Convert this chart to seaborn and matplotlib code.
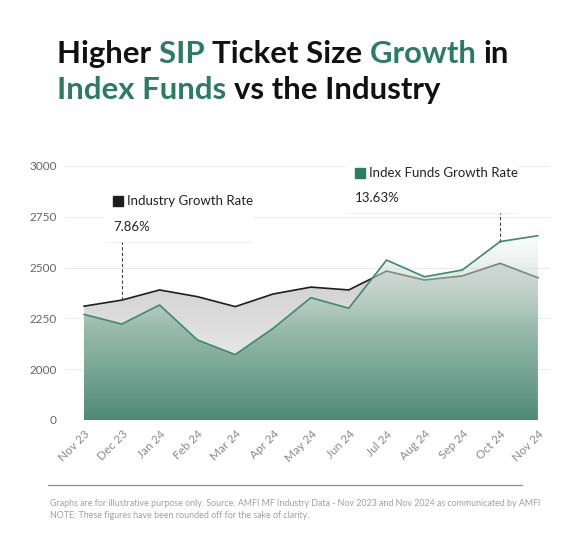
import numpy as np
import pandas as pd
import seaborn as sns
import matplotlib.pyplot as plt
from matplotlib.colors import LinearSegmentedColormap
from matplotlib.patches import Rectangle
from matplotlib.lines import Line2D
import matplotlib.patheffects as pe

# Data
months = ["Nov 23", "Dec 23", "Jan 24", "Feb 24", "Mar 24", "Apr 24", "May 24",
          "Jun 24", "Jul 24", "Aug 24", "Sep 24", "Oct 24", "Nov 24"]
industry = [2310, 2340, 2390, 2357, 2308, 2370, 2404, 2390, 2483, 2439, 2459, 2521, 2450]
index_funds = [2270, 2222, 2316, 2144, 2072, 2201, 2352, 2300, 2537, 2455, 2488, 2628, 2657]
y_ticks = [1750, 2000, 2250, 2500, 2750, 3000]
y_tick_labels = ["0", "2000", "2250", "2500", "2750", "3000"]
industry_label = "Industry Growth Rate"
industry_growth = "7.86%"
index_label = "Index Funds Growth Rate"
index_growth = "13.63%"

GREEN = "#2b7d62"
DARK = "#1e1e1e"
FONT = "Lato"

sns.set_style("white")
plt.rcParams["font.family"] = [FONT, "DejaVu Sans"]

df = pd.DataFrame({"pos": np.arange(len(months)), "month": months,
                   "industry": industry, "index_funds": index_funds})
floor = y_ticks[0]

fig = plt.figure(figsize=(5.78, 5.33), dpi=100)
ax = fig.add_axes([65 / 578, 1 - 420 / 533, (550 - 65) / 578, (420 - 166) / 533])


def gradient_fill(ax, x, y, colors, zorder):
    x = np.asarray(x, dtype=float)
    y = np.asarray(y, dtype=float)
    poly = ax.fill_between(x, y, floor, color="none", lw=0)
    path = poly.get_paths()[0]
    cmap = LinearSegmentedColormap.from_list("grad", colors)
    grad = np.linspace(0, 1, 256).reshape(-1, 1)
    im = ax.imshow(grad, cmap=cmap, aspect="auto", origin="lower",
                   extent=[x[0], x[-1], floor, y.max()], zorder=zorder)
    im.set_clip_path(path, transform=ax.transData)


gradient_fill(ax, df["pos"], df["industry"], ["#f8f8f8", "#cdcdcd"], 1)
sns.lineplot(data=df, x="pos", y="industry", color=DARK, lw=1.2, ax=ax, zorder=1.5)
gradient_fill(ax, df["pos"], df["index_funds"],
              [(0.30, 0.54, 0.46, 1.0), (0.56, 0.71, 0.65, 0.88),
               (0.95, 0.97, 0.96, 0.35)], 2)
sns.lineplot(data=df, x="pos", y="index_funds", color="#3d8a6f", lw=1.2, ax=ax, zorder=3)

ax.set_xlim(-0.5, 12.32)
ax.set_ylim(floor, 3000)
ax.set_yticks(y_ticks)
ax.set_yticklabels(y_tick_labels, color="#666666", fontsize=8.5)
ax.set_xticks(df["pos"])
ax.set_xticklabels(months, rotation=45, ha="right", rotation_mode="anchor",
                   color="#8a8a8a", fontsize=8.5)
ax.tick_params(length=0, pad=6)
ax.set_xlabel("")
ax.set_ylabel("")
ax.yaxis.grid(True, color="#ececec", lw=0.8)
ax.set_axisbelow(True)
sns.despine(ax=ax, left=True, bottom=True)


def callout(ax, x0, x1, y0, y1, label, value, color, px, dash_x, dash_y):
    box = Rectangle((x0, y0), x1 - x0, y1 - y0, facecolor="white", edgecolor="none",
                    zorder=5, clip_on=False,
                    path_effects=[pe.SimplePatchShadow(offset=(0, -1), shadow_rgbFace="#000000",
                                                       alpha=0.05), pe.Normal()])
    ax.add_patch(box)
    ax.vlines(dash_x, dash_y, y0, colors="#444444", lw=0.8, linestyles=(0, (3, 2)), zorder=4)
    ty = y1 - (y1 - y0) * 0.25
    ax.plot([px], [ty], marker="s", ms=7, color=color, zorder=6, clip_on=False)
    ax.text(px + 0.24, ty, label, fontsize=9.5, color="#222222", va="center", zorder=6)
    ax.text(px - 0.13, y0 + (y1 - y0) * 0.28, value, fontsize=9.5, color="#222222",
            va="center", zorder=6)


callout(ax, 0.556, 4.47, 2626, 2892, industry_label, industry_growth, DARK, 0.9, 1, industry[1])
callout(ax, 6.93, 11.48, 2769, 3030, index_label, index_growth, GREEN, 7.30, 11, index_funds[11])


# Title with coloured words
def colored_line(fig, x, y, parts, **kw):
    renderer = fig.canvas.get_renderer()
    for txt, col in parts:
        t = fig.text(x, y, txt, color=col, **kw)
        bb = t.get_window_extent(renderer=renderer)
        x += bb.width / fig.bbox.width


title_kw = dict(fontsize=22.4, fontweight="bold", va="baseline")
colored_line(fig, 57 / 578, 1 - 63 / 533,
             [("Higher ", "#111111"), ("SIP ", GREEN), ("Ticket Size ", "#111111"),
              ("Growth ", GREEN), ("in", "#111111")], **title_kw)
colored_line(fig, 57 / 578, 1 - 99 / 533,
             [("Index Funds ", GREEN), ("vs the Industry", "#111111")], **title_kw)

# Footer
fig.add_artist(Line2D([48 / 578, 522 / 578], [1 - 485 / 533] * 2, color="#8a8a8a", lw=0.9))
fig.text(50 / 578, 1 - 503 / 533,
         "Graphs are for illustrative purpose only. Source: AMFI MF Industry Data - Nov 2023 and Nov 2024 as communicated by AMFI",
         fontsize=6.4, color="#a0a0a0", va="center")
fig.text(50 / 578, 1 - 515 / 533,
         "NOTE: These figures have been rounded off for the sake of clarity.",
         fontsize=6.4, color="#a0a0a0", va="center")

fig.savefig("out.png", dpi=100, facecolor="white")
